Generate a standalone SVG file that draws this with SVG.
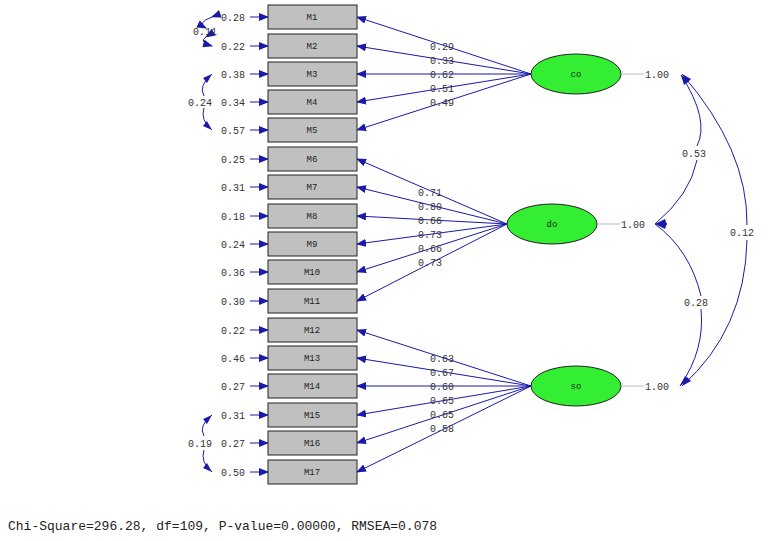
<svg xmlns="http://www.w3.org/2000/svg" width="768" height="541" viewBox="0 0 768 541">
<style>
.b{fill:#c0c0c0;stroke:#222;stroke-width:1}
.e{fill:#33ee33;stroke:#222;stroke-width:1}
.t{font-family:"Liberation Mono",monospace;font-size:10px;fill:#333}
.n{font-family:"Liberation Mono",monospace;font-size:9px;fill:#222;text-anchor:middle}
.c{stroke:#1a1aaa;stroke-width:1;fill:none}
.g{stroke:#bbb;stroke-width:1}
</style>
<defs><marker id="a" markerWidth="10" markerHeight="8" refX="9" refY="4" orient="auto" markerUnits="userSpaceOnUse"><path d="M0,0 L10,4 L0,8 z" fill="#1a1aaa"/></marker></defs>
<rect width="768" height="541" fill="#fff"/>
<g id="connectors">
<g class="c" marker-end="url(#a)">
<path d="M531,74 L357,17"/><path d="M531,74 L357,46"/><path d="M531,74 L357,74"/><path d="M531,74 L357,102"/><path d="M531,74 L357,130"/>
<path d="M507,224 L357,159"/><path d="M507,224 L357,187"/><path d="M507,224 L357,216"/><path d="M507,224 L357,244"/><path d="M507,224 L357,272"/><path d="M507,224 L357,301"/>
<path d="M531,386 L357,330"/><path d="M531,386 L357,358"/><path d="M531,386 L357,386"/><path d="M531,386 L357,415"/><path d="M531,386 L357,443"/><path d="M531,386 L357,472"/>
<path d="M250,17 L268,17"/><path d="M250,46 L268,46"/><path d="M250,74 L268,74"/><path d="M250,102 L268,102"/><path d="M250,130 L268,130"/><path d="M250,159 L268,159"/><path d="M250,187 L268,187"/><path d="M250,216 L268,216"/><path d="M250,244 L268,244"/><path d="M250,272 L268,272"/><path d="M250,301 L268,301"/><path d="M250,330 L268,330"/><path d="M250,358 L268,358"/><path d="M250,386 L268,386"/><path d="M250,415 L268,415"/><path d="M250,443 L268,443"/><path d="M250,472 L268,472"/>
</g>
<g class="c" marker-start="url(#a)" marker-end="url(#a)">
<path d="M212,17 Q196,23 206,28"/>
<path d="M206,37 Q198,42 212,46"/>
<path d="M212,74 Q198,86 204,96 M204,108 Q200,120 212,130" marker-start="none" marker-end="none"/>
<path d="M212,415 Q198,426 204,436 M204,450 Q200,462 212,472" marker-start="none" marker-end="none"/>
<path d="M681,75 Q710,120 697,146 M697,160 Q690,195 655,224" marker-start="none" marker-end="none"/>
<path d="M655,224 Q690,250 701,296 M701,309 Q705,350 680,386" marker-start="none" marker-end="none"/>
<path d="M682,74 Q748,150 747,225 M747,240 Q745,330 682,386" marker-start="none" marker-end="none"/>
</g>
<g fill="#1a1aaa">
<path d="M212,74 l-9,4 l4,5 z"/><path d="M212,130 l-9,-4 l4,-5 z"/>
<path d="M212,415 l-9,4 l4,5 z"/><path d="M212,472 l-9,-4 l4,-5 z"/>
<path d="M681,75 l3,10 l5,-4 z"/><path d="M655,224 l10,-5 l2,6 z"/><path d="M655,224 l10,5 l2,-6 z"/><path d="M680,386 l5,-10 l4,4 z"/>
<path d="M682,74 l5,9 l4,-4 z"/><path d="M682,386 l5,-9 l4,4 z"/>
</g>
<g class="g"><path d="M622,74 H644"/><path d="M598,224 H620"/><path d="M622,386 H644"/></g>
</g>
<g id="observed">
<g id="M1"><rect class="b" x="268" y="5" width="89" height="24"/><text class="n" x="312" y="20">M1</text></g>
<g id="M2"><rect class="b" x="268" y="34" width="89" height="24"/><text class="n" x="312" y="49">M2</text></g>
<g id="M3"><rect class="b" x="268" y="62" width="89" height="24"/><text class="n" x="312" y="77">M3</text></g>
<g id="M4"><rect class="b" x="268" y="90" width="89" height="24"/><text class="n" x="312" y="105">M4</text></g>
<g id="M5"><rect class="b" x="268" y="118" width="89" height="24"/><text class="n" x="312" y="133">M5</text></g>
<g id="M6"><rect class="b" x="268" y="147" width="89" height="24"/><text class="n" x="312" y="162">M6</text></g>
<g id="M7"><rect class="b" x="268" y="175" width="89" height="24"/><text class="n" x="312" y="190">M7</text></g>
<g id="M8"><rect class="b" x="268" y="204" width="89" height="24"/><text class="n" x="312" y="219">M8</text></g>
<g id="M9"><rect class="b" x="268" y="232" width="89" height="24"/><text class="n" x="312" y="247">M9</text></g>
<g id="M10"><rect class="b" x="268" y="260" width="89" height="24"/><text class="n" x="312" y="275">M10</text></g>
<g id="M11"><rect class="b" x="268" y="289" width="89" height="24"/><text class="n" x="312" y="304">M11</text></g>
<g id="M12"><rect class="b" x="268" y="318" width="89" height="24"/><text class="n" x="312" y="333">M12</text></g>
<g id="M13"><rect class="b" x="268" y="346" width="89" height="24"/><text class="n" x="312" y="361">M13</text></g>
<g id="M14"><rect class="b" x="268" y="374" width="89" height="24"/><text class="n" x="312" y="389">M14</text></g>
<g id="M15"><rect class="b" x="268" y="403" width="89" height="24"/><text class="n" x="312" y="418">M15</text></g>
<g id="M16"><rect class="b" x="268" y="431" width="89" height="24"/><text class="n" x="312" y="446">M16</text></g>
<g id="M17"><rect class="b" x="268" y="460" width="89" height="24"/><text class="n" x="312" y="475">M17</text></g>
</g>
<g id="co"><ellipse class="e" cx="576" cy="74" rx="45" ry="20"/><text class="n" x="576" y="77">co</text></g>
<g id="do"><ellipse class="e" cx="552" cy="224" rx="45" ry="20"/><text class="n" x="552" y="227">do</text></g>
<g id="so"><ellipse class="e" cx="576" cy="386" rx="45" ry="20"/><text class="n" x="576" y="389">so</text></g>
<g id="labels" class="t">
<g text-anchor="end">
<text x="245" y="21">0.28</text><text x="245" y="50">0.22</text><text x="245" y="78">0.38</text><text x="245" y="106">0.34</text><text x="245" y="134">0.57</text>
<text x="245" y="163">0.25</text><text x="245" y="191">0.31</text><text x="245" y="220">0.18</text><text x="245" y="248">0.24</text><text x="245" y="276">0.36</text><text x="245" y="305">0.30</text>
<text x="245" y="334">0.22</text><text x="245" y="362">0.46</text><text x="245" y="390">0.27</text><text x="245" y="419">0.31</text><text x="245" y="447">0.27</text><text x="245" y="476">0.50</text>
</g>
<text x="193" y="35">0.11</text><text x="188" y="106">0.24</text><text x="188" y="447">0.19</text>
<text x="430" y="50">0.29</text><text x="430" y="64">0.33</text><text x="430" y="78">0.62</text><text x="430" y="92">0.51</text><text x="430" y="106">0.49</text>
<text x="418" y="196">0.71</text><text x="418" y="210">0.80</text><text x="418" y="224">0.66</text><text x="418" y="238">0.73</text><text x="418" y="252">0.66</text><text x="418" y="266">0.73</text>
<text x="430" y="362">0.63</text><text x="430" y="376">0.67</text><text x="430" y="390">0.60</text><text x="430" y="404">0.65</text><text x="430" y="418">0.65</text><text x="430" y="432">0.58</text>
<text x="645" y="78">1.00</text><text x="621" y="228">1.00</text><text x="645" y="390">1.00</text>
<text x="682" y="157">0.53</text><text x="684" y="306">0.28</text><text x="730" y="236">0.12</text>
<text x="8" y="530" style="font-size:13px;fill:#222">Chi-Square=296.28, df=109, P-value=0.00000, RMSEA=0.078</text>
</g>
</svg>
